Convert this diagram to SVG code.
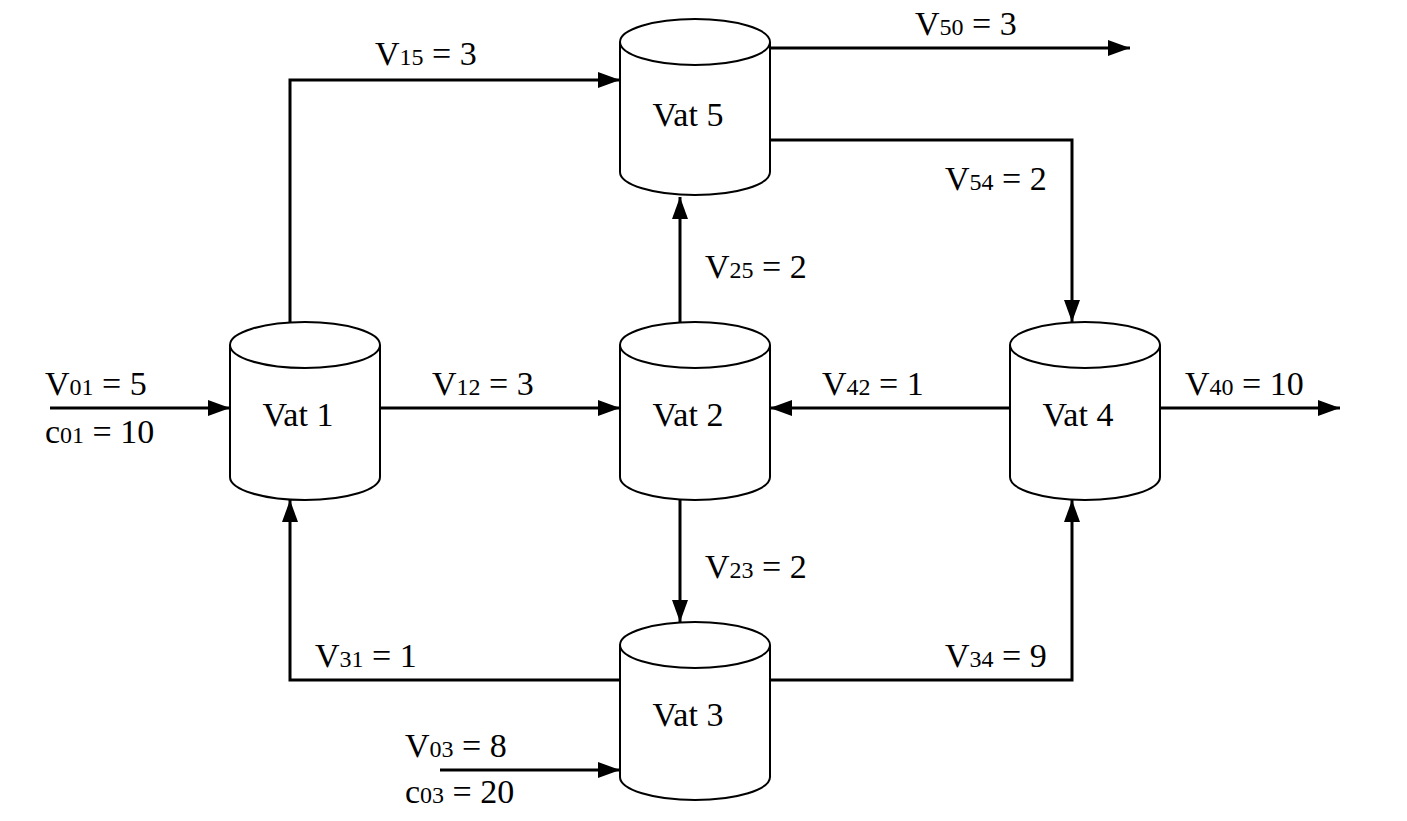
<svg xmlns="http://www.w3.org/2000/svg" width="1407" height="821" viewBox="0 0 1407 821">
<style>
.c{fill:#fff;stroke:#000;stroke-width:2}
.l{fill:none;stroke:#000;stroke-width:3;marker-end:url(#a)}
text{font-family:"Liberation Serif","Times New Roman",serif;font-size:34px;fill:#000}
.s{font-size:24px}
.v{text-anchor:middle}
</style>
<defs>
<marker id="a" markerUnits="userSpaceOnUse" markerWidth="24" markerHeight="18" refX="22" refY="8" orient="auto"><path d="M0,0 L22,8 L0,16 Z" fill="#000"/></marker>
</defs>
<rect width="1407" height="821" fill="#fff"/>
<g id="connectors">
<path class="l" d="M50,408 H230"/>
<path class="l" d="M380,408 H620"/>
<path class="l" d="M1010,408 H770"/>
<path class="l" d="M1160,408 H1340"/>
<path class="l" d="M290,322 V80 H620"/>
<path class="l" d="M770,48 H1130"/>
<path class="l" d="M770,140 H1072 V322"/>
<path class="l" d="M680,322 V197"/>
<path class="l" d="M680,500 V622"/>
<path class="l" d="M620,680 H290 V500"/>
<path class="l" d="M770,680 H1072 V500"/>
<path class="l" d="M440,770 H620"/>
</g>
<g id="labels">
<text x="375" y="65">V<tspan class="s">15</tspan> = 3</text>
<text x="915" y="35">V<tspan class="s">50</tspan> = 3</text>
<text x="945" y="190">V<tspan class="s">54</tspan> = 2</text>
<text x="705" y="278">V<tspan class="s">25</tspan> = 2</text>
<text x="45" y="395">V<tspan class="s">01</tspan> = 5</text>
<text x="45" y="443">c<tspan class="s">01</tspan> = 10</text>
<text x="432" y="395">V<tspan class="s">12</tspan> = 3</text>
<text x="822" y="395">V<tspan class="s">42</tspan> = 1</text>
<text x="1185" y="395">V<tspan class="s">40</tspan> = 10</text>
<text x="705" y="578">V<tspan class="s">23</tspan> = 2</text>
<text x="315" y="667">V<tspan class="s">31</tspan> = 1</text>
<text x="945" y="667">V<tspan class="s">34</tspan> = 9</text>
<text x="405" y="757">V<tspan class="s">03</tspan> = 8</text>
<text x="405" y="803">c<tspan class="s">03</tspan> = 20</text>
</g>
<g id="vat1"><path class="c" d="M230,345 V477 A75,23 0 0 0 380,477 V345"/><ellipse class="c" cx="305" cy="345" rx="75" ry="23"/><text class="v" x="298" y="426">Vat 1</text></g>
<g id="vat2"><path class="c" d="M620,345 V477 A75,23 0 0 0 770,477 V345"/><ellipse class="c" cx="695" cy="345" rx="75" ry="23"/><text class="v" x="688" y="426">Vat 2</text></g>
<g id="vat4"><path class="c" d="M1010,345 V477 A75,23 0 0 0 1160,477 V345"/><ellipse class="c" cx="1085" cy="345" rx="75" ry="23"/><text class="v" x="1078" y="426">Vat 4</text></g>
<g id="vat5"><path class="c" d="M620,42 V172 A75,23 0 0 0 770,172 V42"/><ellipse class="c" cx="695" cy="42" rx="75" ry="23"/><text class="v" x="688" y="126">Vat 5</text></g>
<g id="vat3"><path class="c" d="M620,645 V777 A75,23 0 0 0 770,777 V645"/><ellipse class="c" cx="695" cy="645" rx="75" ry="23"/><text class="v" x="688" y="726">Vat 3</text></g>
</svg>
